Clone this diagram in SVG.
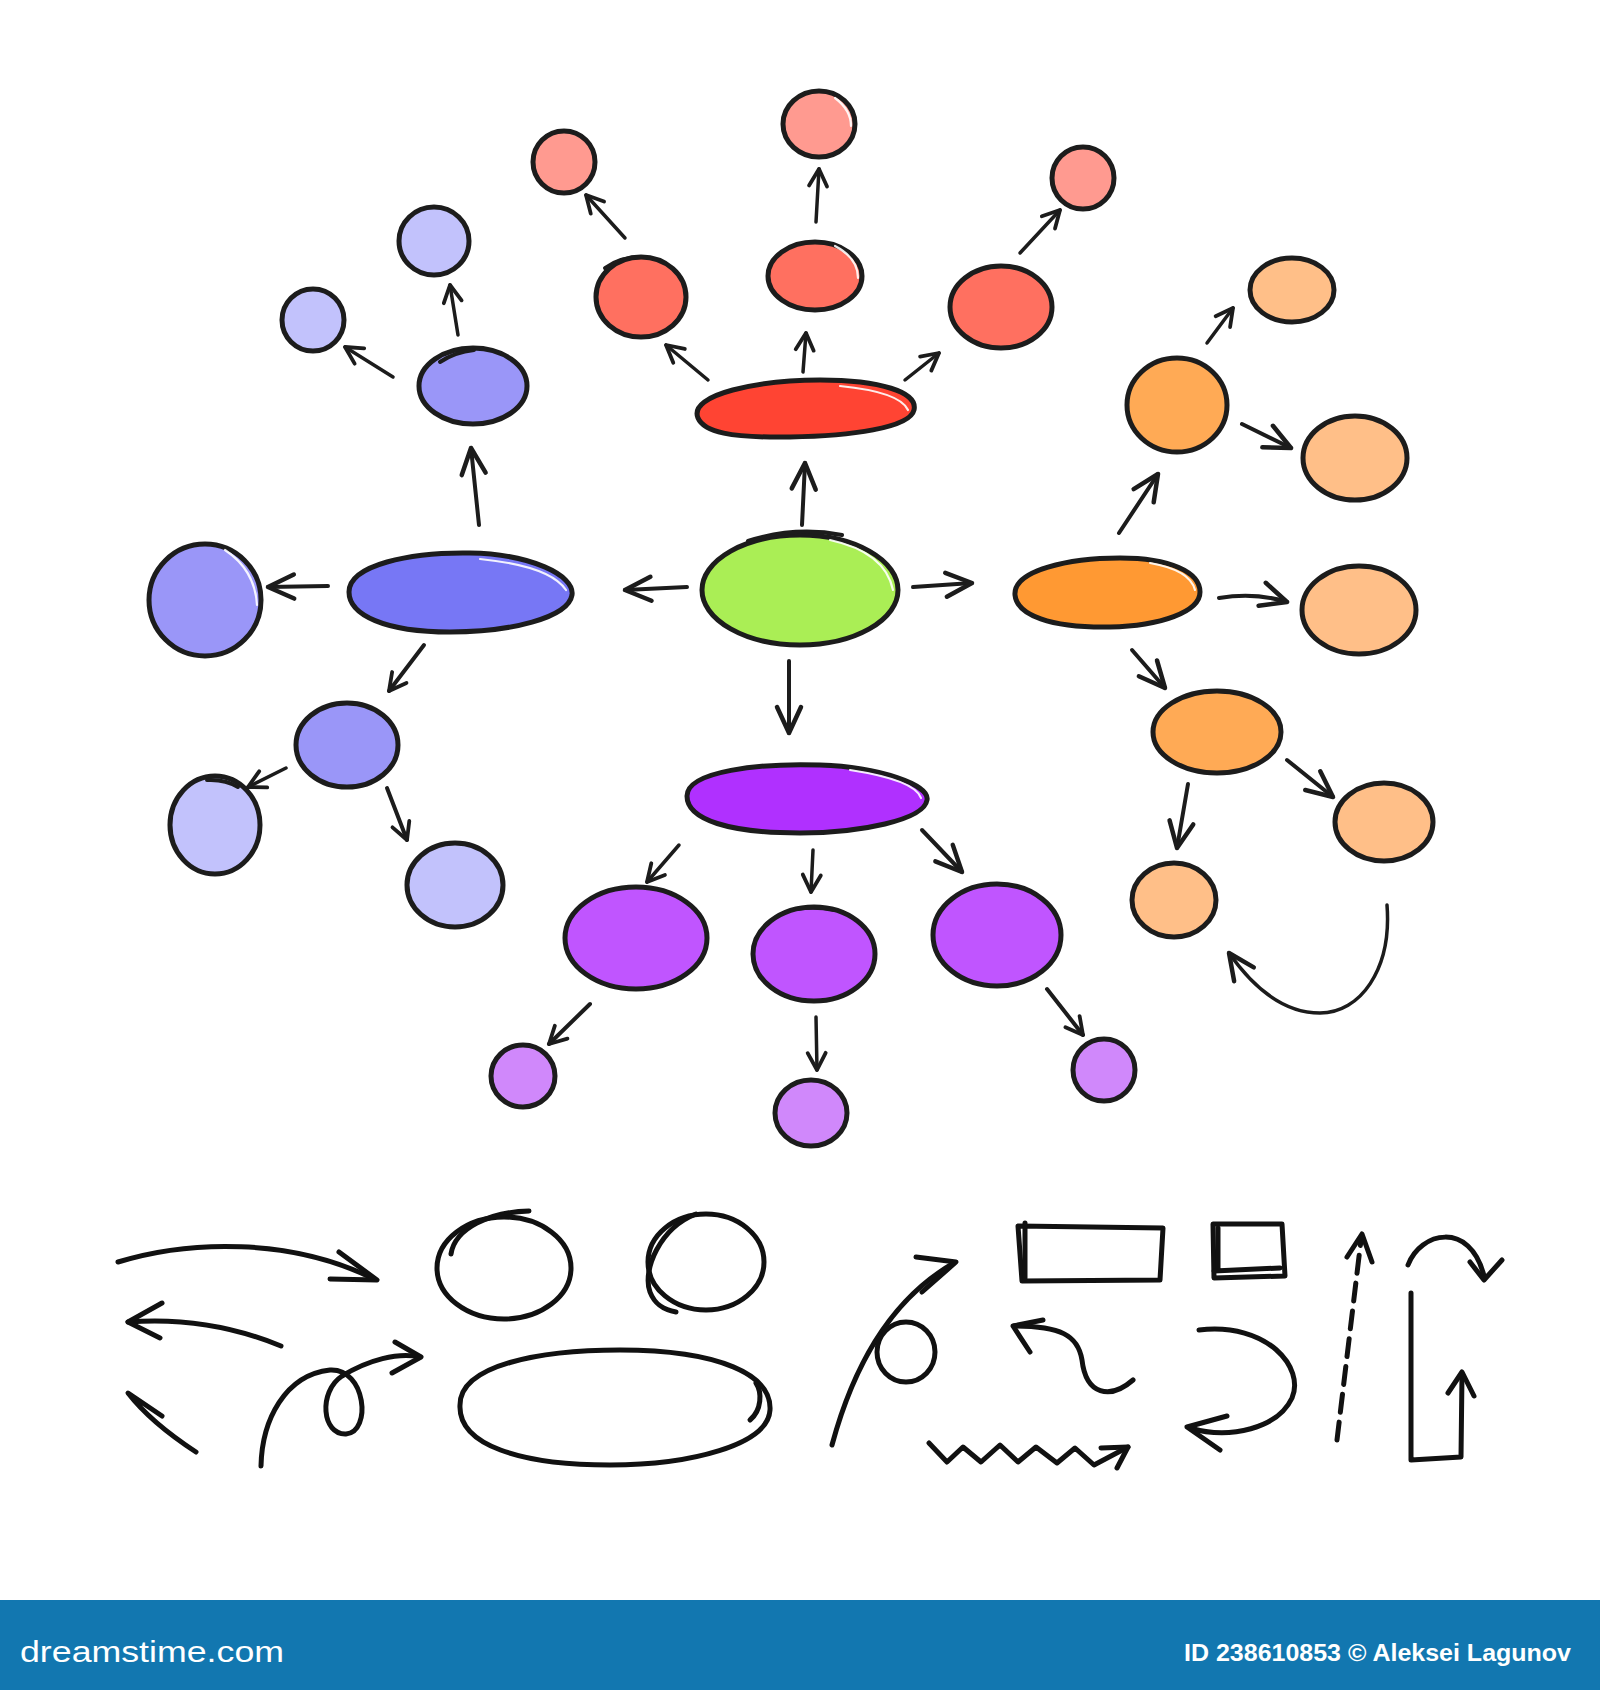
<svg xmlns="http://www.w3.org/2000/svg" width="1600" height="1690" viewBox="0 0 1600 1690">
<defs>
<style>
.n{stroke:#1c1c1c;stroke-width:5;stroke-linejoin:round}
.hl{fill:none;stroke:#ffffff;stroke-width:2.2;stroke-linecap:round;opacity:0.9}
.os{fill:none;stroke:#1c1c1c;stroke-width:4;stroke-linecap:round}
.c{fill:none;stroke:#1c1c1c;stroke-width:4;stroke-linecap:round}
.cs{fill:none;stroke:#1c1c1c;stroke-width:3.5;stroke-linecap:round}
.ic{fill:none;stroke:#111111;stroke-width:5;stroke-linecap:round;stroke-linejoin:round}
.r1{fill:#ff4433}.r2{fill:#ff7060}.r3{fill:#ff9a90}
.b1{fill:#7777f5}.b2{fill:#9a96f8}.b3{fill:#c2c2fc}
.o1{fill:#ff9933}.o2{fill:#ffaa55}.o3{fill:#ffbf88}
.p1{fill:#b030ff}.p2{fill:#c055ff}.p3{fill:#d088fb}
.g1{fill:#aaee55}
.ft{fill:#ffffff;font-family:"Liberation Sans",Arial,sans-serif}
</style>
<marker id="ah" viewBox="-30 -16 34 32" refX="0" refY="0" markerWidth="34" markerHeight="32" markerUnits="userSpaceOnUse" orient="auto">
<path d="M -26 -12 L 0 0 L -26 12" fill="none" stroke="#1c1c1c" stroke-width="4.5" stroke-linecap="round" stroke-linejoin="round"/>
</marker>
<marker id="as" viewBox="-22 -12 26 24" refX="0" refY="0" markerWidth="26" markerHeight="24" markerUnits="userSpaceOnUse" orient="auto">
<path d="M -17 -9 L 0 0 L -17 9" fill="none" stroke="#1c1c1c" stroke-width="3.8" stroke-linecap="round" stroke-linejoin="round"/>
</marker>
</defs>
<rect width="1600" height="1690" fill="#ffffff"/>

<!-- centre -->
<g id="center">
<ellipse class="n g1" cx="800" cy="590" rx="98" ry="55"/>
<path class="hl" d="M 830 540 Q 885 552 893 590"/>
<path class="os" d="M 748 541 Q 795 526 842 535"/>
</g>

<!-- red branch -->
<g id="red-main">
<path class="n r1" d="M 698 418 C 688 394 760 380 820 380 C 880 380 918 392 914 410 C 910 428 850 436 790 437 C 730 438 704 432 698 418 Z"/>
<path class="hl" d="M 840 386 Q 900 392 908 410"/>
</g>
<g id="red-mid-left"><ellipse class="n r2" cx="641" cy="297" rx="45" ry="40"/><path class="os" d="M 605 268 Q 620 257 642 257"/></g>
<g id="red-mid-center"><ellipse class="n r2" cx="815" cy="276" rx="47" ry="34"/><path class="hl" d="M 835 246 Q 858 258 858 278"/></g>
<g id="red-mid-right"><ellipse class="n r2" cx="1001" cy="307" rx="51" ry="41"/></g>
<g id="red-top-left"><ellipse class="n r3" cx="564" cy="162" rx="31" ry="31"/></g>
<g id="red-top-center"><ellipse class="n r3" cx="819" cy="124" rx="36" ry="33"/><path class="hl" d="M 835 98 Q 851 110 851 126"/></g>
<g id="red-top-right"><ellipse class="n r3" cx="1083" cy="178" rx="31" ry="31"/></g>

<!-- blue branch -->
<g id="blue-main">
<path class="n b1" d="M 349 592 C 349 565 410 552 470 553 C 530 554 575 575 572 595 C 568 618 510 632 450 632 C 385 632 349 615 349 592 Z"/>
<path class="hl" d="M 480 559 Q 550 566 566 590"/>
</g>
<g id="blue-left"><ellipse class="n b2" cx="205" cy="600" rx="56" ry="56"/><path class="hl" d="M 225 550 Q 255 570 257 605"/></g>
<g id="blue-upper"><ellipse class="n b2" cx="473" cy="386" rx="54" ry="38"/><path class="os" d="M 440 362 Q 455 352 474 350"/></g>
<g id="blue-top"><ellipse class="n b3" cx="434" cy="241" rx="35" ry="34"/></g>
<g id="blue-top-left"><ellipse class="n b3" cx="313" cy="320" rx="31" ry="31"/></g>
<g id="blue-lower"><ellipse class="n b2" cx="347" cy="745" rx="51" ry="42"/></g>
<g id="blue-lower-left"><ellipse class="n b3" cx="215" cy="825" rx="45" ry="49"/><path class="os" d="M 207 780 Q 225 779 238 787"/></g>
<g id="blue-lower-right"><ellipse class="n b3" cx="455" cy="885" rx="48" ry="42"/></g>

<!-- orange branch -->
<g id="orange-main">
<path class="n o1" d="M 1015 595 C 1013 570 1070 558 1120 558 C 1170 558 1200 572 1200 592 C 1200 612 1160 626 1110 627 C 1050 628 1017 615 1015 595 Z"/>
<path class="hl" d="M 1150 563 Q 1190 570 1195 590"/>
</g>
<g id="orange-upper"><ellipse class="n o2" cx="1177" cy="405" rx="50" ry="47"/></g>
<g id="orange-top"><ellipse class="n o3" cx="1292" cy="290" rx="42" ry="32"/></g>
<g id="orange-right-upper"><ellipse class="n o3" cx="1355" cy="458" rx="52" ry="42"/></g>
<g id="orange-right"><ellipse class="n o3" cx="1359" cy="610" rx="57" ry="44"/></g>
<g id="orange-lower"><ellipse class="n o2" cx="1217" cy="732" rx="64" ry="41"/></g>
<g id="orange-lower-right"><ellipse class="n o3" cx="1384" cy="822" rx="49" ry="39"/></g>
<g id="orange-lower-left"><ellipse class="n o3" cx="1174" cy="900" rx="42" ry="37"/></g>

<!-- purple branch -->
<g id="purple-main">
<path class="n p1" d="M 687 796 C 687 771 760 763 820 765 C 880 767 930 785 927 800 C 924 820 860 833 800 833 C 730 833 687 820 687 796 Z"/>
<path class="hl" d="M 850 770 Q 915 780 921 798"/>
</g>
<g id="purple-mid-left"><ellipse class="n p2" cx="636" cy="938" rx="71" ry="51"/></g>
<g id="purple-mid-center"><ellipse class="n p2" cx="814" cy="954" rx="61" ry="47"/><path class="os" d="M 797 909 Q 815 906 834 910"/></g>
<g id="purple-mid-right"><ellipse class="n p2" cx="997" cy="935" rx="64" ry="51"/></g>
<g id="purple-small-left"><ellipse class="n p3" cx="523" cy="1076" rx="32" ry="31"/></g>
<g id="purple-small-center"><ellipse class="n p3" cx="811" cy="1113" rx="36" ry="33"/></g>
<g id="purple-small-right"><ellipse class="n p3" cx="1104" cy="1070" rx="31" ry="31"/></g>

<!-- connectors -->
<g id="connectors">
<path class="c" marker-end="url(#ah)" d="M 802 525 L 805 463"/>
<path class="c" marker-end="url(#ah)" d="M 687 587 L 625 590"/>
<path class="c" marker-end="url(#ah)" d="M 913 587 L 972 583"/>
<path class="c" marker-end="url(#ah)" d="M 789 661 L 789 733"/>
<path class="c" marker-end="url(#ah)" d="M 328 586 L 268 587"/>
<path class="c" marker-end="url(#ah)" d="M 479 525 L 471 448"/>
<path class="c" marker-end="url(#as)" d="M 424 645 L 389 691"/>
<path class="c" marker-end="url(#ah)" d="M 1119 533 L 1158 474"/>
<path class="c" marker-end="url(#ah)" d="M 1219 598 Q 1255 592 1287 602"/>
<path class="c" marker-end="url(#ah)" d="M 1132 650 L 1165 688"/>
<path class="c" marker-end="url(#ah)" d="M 1242 424 L 1291 448"/>
<path class="c" marker-end="url(#ah)" d="M 1287 760 L 1333 797"/>
<path class="c" marker-end="url(#ah)" d="M 1188 784 L 1177 848"/>
<path class="c" marker-end="url(#ah)" d="M 922 830 L 962 872"/>
<path class="cs" marker-end="url(#as)" d="M 708 380 L 666 345"/>
<path class="cs" marker-end="url(#as)" d="M 803 372 L 806 333"/>
<path class="cs" marker-end="url(#as)" d="M 905 380 L 939 353"/>
<path class="cs" marker-end="url(#as)" d="M 625 238 L 586 195"/>
<path class="cs" marker-end="url(#as)" d="M 816 222 L 819 169"/>
<path class="cs" marker-end="url(#as)" d="M 1020 253 L 1060 210"/>
<path class="cs" marker-end="url(#as)" d="M 458 335 L 450 285"/>
<path class="cs" marker-end="url(#as)" d="M 393 377 L 345 347"/>
<path class="cs" marker-end="url(#as)" d="M 286 768 L 248 787"/>
<path class="c" marker-end="url(#as)" d="M 387 788 L 407 840"/>
<path class="cs" marker-end="url(#as)" d="M 1207 343 L 1233 308"/>
<path class="cs" marker-end="url(#as)" d="M 679 845 L 647 882"/>
<path class="cs" marker-end="url(#as)" d="M 813 850 L 811 892"/>
<path class="c" marker-end="url(#as)" d="M 590 1004 L 549 1044"/>
<path class="cs" marker-end="url(#as)" d="M 816 1017 L 817 1070"/>
<path class="c" marker-end="url(#as)" d="M 1047 989 L 1083 1035"/>
<path class="cs" marker-end="url(#ah)" d="M 1387 905 C 1392 970 1360 1013 1320 1013 C 1285 1013 1255 990 1229 953"/>
</g>

<!-- hand-drawn icon set -->
<g id="icons">
<path class="ic" stroke-width="7" d="M 118 1262 C 190 1240 290 1238 372 1278"/>
<path class="ic" stroke-width="7" d="M 339 1252 L 377 1280 L 330 1279"/>
<path class="ic" stroke-width="6" d="M 281 1346 C 230 1325 180 1318 128 1322"/>
<path class="ic" stroke-width="6" d="M 162 1303 L 128 1322 L 160 1338"/>
<path class="ic" stroke-width="4" d="M 196 1452 C 170 1435 145 1415 128 1393 L 162 1416"/>
<path class="ic" stroke-width="4.5" d="M 261 1466 C 262 1420 285 1375 330 1370 C 366 1368 372 1432 346 1434 C 322 1435 318 1392 342 1376 C 368 1360 398 1352 420 1357"/>
<path class="ic" stroke-width="6" d="M 395 1342 L 421 1357 L 392 1373"/>
<ellipse class="ic" cx="504" cy="1268" rx="67" ry="51"/>
<path class="ic" stroke-width="3.5" d="M 451 1254 C 455 1228 490 1212 529 1211"/>
<ellipse class="ic" cx="706" cy="1262" rx="58" ry="48"/>
<path class="ic" stroke-width="4" d="M 696 1214 C 660 1228 642 1270 650 1292 C 655 1305 664 1310 676 1312"/>
<path class="ic" stroke-width="6" d="M 460 1405 C 460 1365 540 1350 620 1350 C 720 1350 772 1375 770 1410 C 768 1445 690 1465 610 1465 C 520 1465 458 1445 460 1405 Z"/>
<path class="ic" stroke-width="3" d="M 750 1420 C 762 1410 762 1392 756 1383"/>
<path class="ic" stroke-width="3.5" d="M 832 1445 Q 868 1312 954 1263"/>
<ellipse class="ic" stroke-width="4.5" cx="906" cy="1352" rx="29" ry="30"/>
<path class="ic" stroke-width="6" d="M 916 1257 L 956 1262 L 922 1292"/>
<path class="ic" stroke-width="4.5" d="M 1018 1226 L 1163 1228 L 1160 1280 L 1022 1281 Z"/>
<path class="ic" stroke-width="3" d="M 1025 1223 L 1025 1278"/>
<path class="ic" stroke-width="4.5" d="M 1213 1224 L 1282 1224 L 1285 1276 L 1214 1278 Z"/>
<path class="ic" stroke-width="3" d="M 1218 1228 L 1218 1270 M 1214 1271 L 1280 1268"/>
<path class="ic" stroke-width="3.2" d="M 1133 1380 C 1110 1400 1086 1395 1082 1360 C 1078 1335 1060 1326 1014 1326"/>
<path class="ic" stroke-width="5" d="M 1043 1320 L 1013 1326 L 1030 1352"/>
<path class="ic" stroke-width="4" d="M 929 1443 L 947 1462 L 963 1447 L 981 1462 L 1000 1445 L 1018 1462 L 1036 1447 L 1057 1463 L 1075 1448 L 1094 1465 L 1128 1447"/>
<path class="ic" stroke-width="4.5" d="M 1101 1448 L 1128 1447 L 1117 1468"/>
<path class="ic" stroke-width="3.5" d="M 1199 1330 C 1268 1322 1305 1368 1292 1398 C 1278 1428 1230 1440 1190 1428"/>
<path class="ic" stroke-width="6" d="M 1227 1416 L 1187 1427 L 1220 1450"/>
<path class="ic" stroke-width="4" stroke-dasharray="18 10" stroke-linecap="butt" d="M 1337 1440 L 1361 1240"/>
<path class="ic" stroke-width="4.5" d="M 1347 1257 L 1362 1234 L 1372 1262"/>
<path class="ic" stroke-width="3.8" d="M 1408 1265 C 1420 1232 1470 1220 1484 1276"/>
<path class="ic" stroke-width="4.5" d="M 1470 1262 L 1484 1280 L 1502 1260"/>
<path class="ic" stroke-width="4.5" d="M 1411 1293 L 1411 1460 L 1461 1457 L 1462 1374"/>
<path class="ic" stroke-width="4.5" d="M 1448 1393 L 1462 1372 L 1474 1396"/>
</g>

<!-- footer -->
<g id="footer">
<rect x="0" y="1600" width="1600" height="90" fill="#1277b0"/>
<text class="ft" x="20" y="1662" font-size="30" textLength="264" lengthAdjust="spacingAndGlyphs">dreamstime.com</text>
<text class="ft" x="1571" y="1661" font-size="24" font-weight="bold" text-anchor="end" textLength="387" lengthAdjust="spacingAndGlyphs">ID 238610853 © Aleksei Lagunov</text>
</g>
</svg>
